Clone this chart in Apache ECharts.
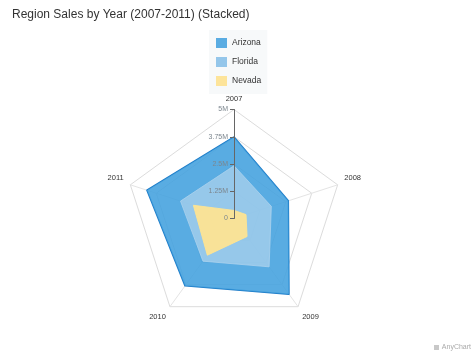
<!DOCTYPE html>
<html>
<head>
<meta charset="utf-8">
<script src="https://cdn.jsdelivr.net/npm/echarts@6/dist/echarts.min.js"></script>
<style>
html,body{margin:0;padding:0;background:#fff;}
#chart{width:474px;height:355px;}
</style>
</head>
<body>
<div id="chart"></div>
<script>
// ---- data ----
const categories = ['2007', '2008', '2009', '2010', '2011'];
const seriesNames = ['Arizona', 'Florida', 'Nevada'];
const arizona = [1320000, 820000, 1550000, 1400000, 1620000];
const florida = [2050000, 1220000, 1720000, 340000, 620000];
const nevada  = [370000, 580000, 1020000, 2080000, 1960000];
const tickValues = [0, 1250000, 2500000, 3750000, 5000000];

// stacking (cumulative) built from the arrays
const nevadaCum = nevada.slice();
const floridaCum = florida.map((v, i) => v + nevadaCum[i]);
const arizonaCum = arizona.map((v, i) => v + floridaCum[i]);

// ECharts lays radar indicators counter-clockwise; reorder so years run clockwise
const order = [0].concat(categories.map((_, i) => i).slice(1).reverse());
const reorder = arr => order.map(i => arr[i]);
const cats = reorder(categories);

const axisMax = tickValues[tickValues.length - 1];
const splitN = tickValues.length - 1;
const FONT = '"Liberation Sans", Arial, sans-serif';

const namePad = {
  '2007': [0, 0, 0, 0],
  '2008': [0, 0, 9, 0],
  '2009': [9, 0, 0, 0],
  '2010': [9, 0, 0, 0],
  '2011': [0, 0, 9, 0]
};
const rich = {};
cats.forEach((c, i) => {
  rich['n' + i] = {fontSize: 7.5, color: '#333', fontFamily: FONT, padding: namePad[c]};
});

const fmt = v => v === 0 ? '0' : (v / 1e6) + 'M';

const chart = echarts.init(document.getElementById('chart'), null, {renderer: 'canvas'});
chart.setOption({
  animation: false,
  backgroundColor: '#fff',
  title: {
    text: 'Region Sales by Year (2007-2011) (Stacked)',
    left: 7, top: 4,
    textStyle: {fontSize: 12, fontWeight: 'normal', color: '#333', fontFamily: FONT}
  },
  legend: {
    data: seriesNames,
    orient: 'vertical',
    left: 209, top: 30,
    padding: [8, 6, 8, 7],
    itemWidth: 11, itemHeight: 10, itemGap: 9,
    icon: 'rect',
    backgroundColor: '#f7f9fa',
    textStyle: {fontSize: 8.5, color: '#333', fontFamily: FONT}
  },
  radar: [
    {
      center: [234, 218.5],
      radius: 109,
      startAngle: 90,
      shape: 'polygon',
      splitNumber: splitN,
      z: 0,
      indicator: cats.map(c => ({name: c, min: 0, max: axisMax})),
      axisName: {
        formatter: (n) => '{n' + cats.indexOf(n) + '|' + n + '}',
        rich: rich
      },
      nameGap: 7,
      splitLine: {lineStyle: {color: '#dcdcdc', width: 1}},
      splitArea: {show: false},
      axisLine: {lineStyle: {color: '#e4e4e4', width: 1}},
      axisTick: {show: false},
      axisLabel: {show: false}
    },
    {
      center: [234, 218.5],
      radius: 109,
      startAngle: 90,
      shape: 'polygon',
      splitNumber: splitN,
      z: 5,
      indicator: cats.map((c, i) => i === 0 ? {
        name: c, min: 0, max: axisMax,
        axisLine: {show: true},
        axisTick: {show: true},
        axisLabel: {show: true}
      } : {name: c, min: 0, max: axisMax}),
      axisName: {show: false},
      splitLine: {show: false},
      splitArea: {show: false},
      axisLine: {show: false, lineStyle: {color: '#666', width: 1}},
      axisTick: {show: false, length: 4, lineStyle: {color: '#666'}},
      axisLabel: {show: false, formatter: fmt, fontSize: 7, color: '#7c868e', margin: 6, fontFamily: FONT}
    }
  ],
  series: [
    {
      type: 'radar',
      radarIndex: 0,
      z: 2,
      symbol: 'none',
      data: [
        {
          name: 'Arizona', value: reorder(arizonaCum),
          itemStyle: {color: '#5aace2'},
          lineStyle: {color: '#1e7cc8', width: 1.5},
          areaStyle: {color: 'rgba(66,160,222,0.88)', opacity: 1}
        },
        {
          name: 'Florida', value: reorder(floridaCum),
          itemStyle: {color: '#94c6ea'},
          lineStyle: {color: 'rgba(173,210,237,0.8)', width: 1},
          areaStyle: {color: 'rgba(173,210,237,0.72)', opacity: 1}
        },
        {
          name: 'Nevada', value: reorder(nevadaCum),
          itemStyle: {color: '#fde49a'},
          lineStyle: {color: 'rgba(255,228,145,0.9)', width: 1},
          areaStyle: {color: 'rgba(255,228,145,0.93)', opacity: 1}
        }
      ]
    }
  ],
  graphic: [
    {
      type: 'rect', right: 35, bottom: 5,
      shape: {width: 5, height: 5},
      style: {fill: '#c8c8c8'}
    },
    {
      type: 'text', right: 3, bottom: 4,
      style: {text: 'AnyChart', fontSize: 7, fill: '#aaa', fontFamily: FONT}
    }
  ]
});
</script>
</body>
</html>
